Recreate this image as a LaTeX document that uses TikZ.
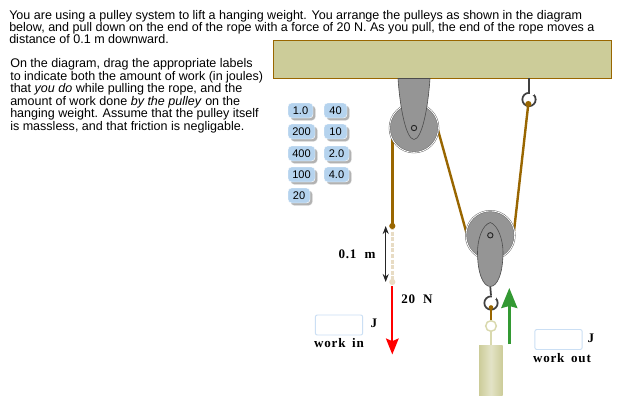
\documentclass[tikz,border=0pt]{standalone}
\usepackage{fontspec}
\setmainfont{Liberation Sans}
\newfontfamily\lblfont[LetterSpace=6]{Liberation Serif}
\usetikzlibrary{arrows.meta,shapes.geometric}
\definecolor{beam}{HTML}{CCCC99}
\definecolor{rope}{HTML}{996600}
\definecolor{metal}{HTML}{959595}
\definecolor{tagblue}{HTML}{B5D3EE}
\definecolor{ghost}{HTML}{E8DCC4}
\definecolor{pale}{HTML}{D9D9AE}
\definecolor{boxedge}{HTML}{CBDFF4}
\definecolor{arrowgreen}{HTML}{339933}
\tikzset{
  x=0.75pt,y=-0.75pt,
  prose/.style={anchor=base west,inner sep=0pt,font=\fontsize{9.4pt}{11pt}\selectfont},
  tagshadow/.style={fill=black!30,draw=white,line width=0.3pt,rounded corners=2.6pt},
  tag/.style={fill=tagblue,draw=white,line width=0.3pt,rounded corners=2.6pt},
  taglabel/.style={inner sep=0pt,font=\fontsize{8.3pt}{10pt}\selectfont},
  lbl/.style={inner sep=0pt,font=\lblfont\bfseries\fontsize{9.8pt}{10pt}\selectfont},
  rope line/.style={draw=rope,line width=1.8pt},
  wheel/.style={circle,minimum size=36.6pt,inner sep=0pt,fill=metal,draw=black!60,line width=0.35pt,double=white,double distance=0.6pt},
  plate/.style={fill=metal,draw=black!70,line width=0.45pt},
  axle/.style={circle,minimum size=4pt,inner sep=0pt,fill=metal,draw=black!85,line width=0.7pt},
  hookline/.style={draw=black!75,line width=1.3pt},
  dot/.style={circle,minimum size=4.6pt,inner sep=0pt,fill=#1},
  answer/.style={draw=boxedge,fill=white,line width=0.7pt,rounded corners=1.5pt,inner sep=0pt},
}
\newcommand{\tagat}[5]{% x1 y1 x2 y2 text
  \fill[tagshadow] (#1+2.5,#2+2.5) rectangle (#3+2.5,#4+2.5);
  \fill[tag,draw=white] (#1,#2) rectangle (#3,#4);
  \node[taglabel] at ({(#1+#3)/2},{(#2+#4)/2}) {#5};
}
\begin{document}
\begin{tikzpicture}
\useasboundingbox (0,0) rectangle (620,403);
\fill[white] (0,0) rectangle (620,403);
% text
\node[prose] (t1) at (9,19.5) {You are using a pulley system to lift a hanging weight. You arrange the pulleys as shown in the diagram};
\node[prose] (t2) at (9,31.5) {below, and pull down on the end of the rope with a force of 20 N. As you pull, the end of the rope moves a};
\node[prose] (t3) at (9,44) {distance of 0.1 m downward.};
\node[prose] (p1) at (10,67.5) {On the diagram, drag the appropriate labels};
\node[prose] (p2) at (10,80) {to indicate both the amount of work (in joules)};
\node[prose] (p3) at (10,92.5) {that \textit{you do} while pulling the rope, and the};
\node[prose] (p4) at (10,105) {amount of work done \textit{by the pulley} on the};
\node[prose] (p5) at (10,117.5) {hanging weight. Assume that the pulley itself};
\node[prose] (p6) at (10,130) {is massless, and that friction is negligable.};
% beam
\path[fill=beam,draw=rope,line width=0.6pt] (273.5,40.5) rectangle (611,78);
% tags
\tagat{288}{103}{313}{118}{1.0}
\tagat{324}{103}{347}{118}{40}
\tagat{288}{124}{315}{139}{200}
\tagat{324}{124}{347}{139}{10}
\tagat{288}{146}{315}{161}{400}
\tagat{324}{146}{349}{161}{2.0}
\tagat{288}{167}{315}{182}{100}
\tagat{324}{167}{349}{182}{4.0}
\tagat{288}{188}{310}{203}{20}
% coordinates
\coordinate (upperC) at (414,128);
\coordinate (lowerC) at (490.3,235.3);
\coordinate (handTop) at (392.3,226);
\coordinate (handEnd) at (392.3,282);
\coordinate (leftTan) at (392.3,135);
\coordinate (midA) at (438,130);
\coordinate (midB) at (466.5,233);
\coordinate (rightA) at (514,231);
\coordinate (rightB) at (528.3,104);
% ropes behind wheels
\draw[rope line] (midA) -- (midB);
\draw[rope line] (rightA) -- (rightB);
\draw[rope line] (leftTan) -- (handTop);
\draw[draw=ghost,line width=1.8pt,dash pattern=on 3pt off 1.2pt] (handTop) -- (handEnd);
% upper pulley
\node[wheel] (upper) at (upperC) {};
\path[plate] (398,78.5) .. controls (400,108) and (406,139) .. (414,139.5) .. controls (422,139) and (428,108) .. (430,78.5) -- cycle;
\node[axle] (upperAxle) at (upperC) {};
% lower pulley
\node[wheel] (lower) at (lowerC) {};
\path[plate] (490.3,222.5) .. controls (482,225) and (477.5,240) .. (477.5,252) .. controls (477.5,273) and (483,286.5) .. (490.3,286.5) .. controls (497.5,286.5) and (503,273) .. (503,252) .. controls (503,240) and (498,225) .. (490.3,222.5) -- cycle;
\node[axle] (lowerAxle) at (lowerC) {};
% top hook
\node[circle,minimum size=10pt,inner sep=0pt,hookline] (topring) at (529,99.5) {};
\coordinate (topHookStart) at (529,78);
\draw[hookline] (topHookStart) -- (topring.north);
\fill[white] (530.2,91) rectangle (533.5,95);
\node[dot=rope] (topdot) at (rightB) {};
% lower hook
\node[circle,minimum size=10pt,inner sep=0pt,hookline] (lowring) at (491,303) {};
\coordinate (lowHookStart) at (490.3,287);
\draw[hookline] (lowHookStart) -- (lowring.north);
\fill[white] (491.7,294.5) rectangle (495.5,298.5);
% weight
\node[circle,minimum size=8pt,inner sep=0pt,draw=pale,line width=1.1pt,fill=none] (weightring) at (491,326) {};
\coordinate (weightTop) at (491,345);
\draw[draw=pale,line width=1.1pt] (weightring.south) -- (weightTop);
\coordinate (lowTie) at (491,307.5);
\draw[rope line] (lowTie) -- (weightring.north);
\node[dot=rope,minimum size=3.5pt] (lowdot) at (lowTie) {};
\shade[left color=beam,right color=beam,middle color=beam!55!white] (479,345) rectangle (502.5,395.5);
% green arrow
\coordinate (gs) at (509.3,344);
\coordinate (ge) at (509.3,288);
\draw[arrowgreen,line width=1.9pt,-{Stealth[length=15pt,width=12pt,inset=1.5pt]}] (gs) -- (ge);
% pull rope dots
\node[dot=rope] (d1) at (handTop) {};
\node[dot=ghost] (d2) at (handEnd) {};
% distance
\coordinate (dm1) at (385.7,226);
\coordinate (dm2) at (385.7,282);
\draw[black!85,line width=0.9pt,{Stealth[length=6pt,width=4.5pt]}-{Stealth[length=6pt,width=4.5pt]}] (dm1) -- (dm2);
% red arrow
\coordinate (rs) at (392.3,286);
\coordinate (re) at (392.3,354.5);
\draw[red,line width=1.7pt,-{Stealth[length=12pt,width=9.5pt,inset=2pt]}] (rs) -- (re);
% labels
\node[lbl] (dist) at (357,254.5) {0.1\hspace{6pt}m};
\node[lbl] (force) at (417,299.5) {20\hspace{6pt}N};
\node[answer,minimum width=35.5pt,minimum height=15pt] (boxin) at (339,325) {};
\node[lbl] (jin) at (374,323.5) {J};
\node[lbl] (workin) at (339,343.5) {work\hspace{5pt}in};
\node[answer,minimum width=35.5pt,minimum height=15pt] (boxout) at (558.5,339.5) {};
\node[lbl] (jout) at (591,338) {J};
\node[lbl] (workout) at (562,358) {work\hspace{5pt}out};
\end{tikzpicture}
\end{document}
